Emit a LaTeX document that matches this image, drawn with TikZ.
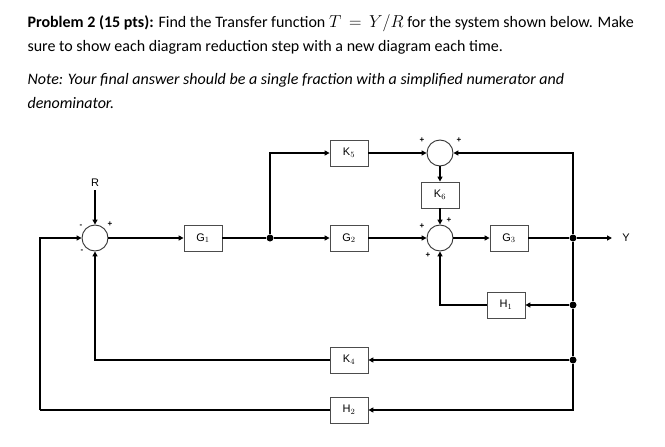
\documentclass[tikz,border=0pt]{standalone}
\usepackage{fontspec}
\setmainfont{Carlito}
\newfontfamily\arialf{Liberation Sans}
\usetikzlibrary{arrows.meta}
\begin{document}
\begin{tikzpicture}[x=1pt,y=-1pt,
  blk/.style={draw=black!70,line width=0.8pt,minimum width=38pt,minimum height=26pt,font=\arialf\fontsize{11}{13}\selectfont,inner sep=0pt},
  sm/.style={draw=black!80,line width=0.9pt,circle,minimum size=26pt,inner sep=0pt},
  ln/.style={line width=1.4pt},
  ar/.style={ln,-{Triangle[length=5pt,width=5pt]}},
  dot/.style={circle,fill=black,inner sep=0pt,minimum size=7pt},
  sg/.style={font=\arialf\footnotesize\bfseries,inner sep=0pt}]
\useasboundingbox (0,0) rectangle (665,447);
\node[anchor=west,font=\fontsize{16}{19}\selectfont] (t1) at (24,23) {\textbf{Problem 2 (15 pts):} Find the Transfer function $T\,=\,Y/R$ for the system shown below. Make};
\node[anchor=west,font=\fontsize{16}{19}\selectfont] (t2) at (24,47) {sure to show each diagram reduction step with a new diagram each time.};
\node[anchor=west,font=\fontsize{16}{19}\selectfont\itshape] (t3) at (24,80) {Note: Your final answer should be a single fraction with a simplified numerator and};
\node[anchor=west,font=\fontsize{16}{19}\selectfont\itshape] (t4) at (24,103) {denominator.};

\node[sm] (s1) at (95,238) {};
\node[blk] (g1) at (203,238) {G$_1$};
\node[dot] (j1) at (270,238) {};
\node[blk] (k5) at (349,153) {K$_5$};
\node[blk] (g2) at (349,238) {G$_2$};
\node[sm] (s3) at (440,153) {};
\node[blk] (k6) at (440,195) {K$_6$};
\node[sm] (s2) at (440,238) {};
\node[blk] (g3) at (509,238) {G$_3$};
\node[dot] (j2) at (573,238) {};
\node[dot] (j3) at (573,305) {};
\node[dot] (j4) at (573,360) {};
\node[blk] (h1) at (506,305) {H$_1$};
\node[blk] (k4) at (349,360) {K$_4$};
\node[blk] (h2) at (349,410) {H$_2$};
\node[font=\arialf\fontsize{11}{13}\selectfont] (R) at (95,183) {R};
\node[font=\arialf\fontsize{11}{13}\selectfont] (Y) at (626,238) {Y};
\coordinate (ye) at (612,238);
\coordinate (lft) at (40,410);

\draw[ar] (R) -- (s1);
\draw[ar] (s1) -- (g1);
\draw[ln] (g1) -- (j1);
\draw[ar] (j1) -- (g2);
\draw[ar] (j1) |- (k5);
\draw[ar] (k5) -- (s3);
\draw[ar] (g2) -- (s2);
\draw[ar] (s3) -- (k6);
\draw[ar] (k6) -- (s2);
\draw[ar] (s2) -- (g3);
\draw[ln] (g3) -- (j2);
\draw[ar] (j2) -- (ye);
\draw[ar] (j2) |- (s3);
\draw[ln] (j2) -- (j3) -- (j4);
\draw[ar] (j3) -- (h1);
\draw[ar] (h1) -| (s2);
\draw[ar] (j4) -- (k4);
\draw[ar] (k4) -| (s1);
\draw[ln] (h2) -- (lft);
\draw[ar] (lft) |- (s1);
\draw[ar] (j4) |- (h2);

\node[sg] at (81,226) {-};
\node[sg] at (110,224) {+};
\node[sg] at (82,251) {-};
\node[sg] at (422,140) {+};
\node[sg] at (459,140) {+};
\node[sg] at (422,226) {+};
\node[sg] at (449,220) {+};
\node[sg] at (428,255) {+};
\end{tikzpicture}
\end{document}
